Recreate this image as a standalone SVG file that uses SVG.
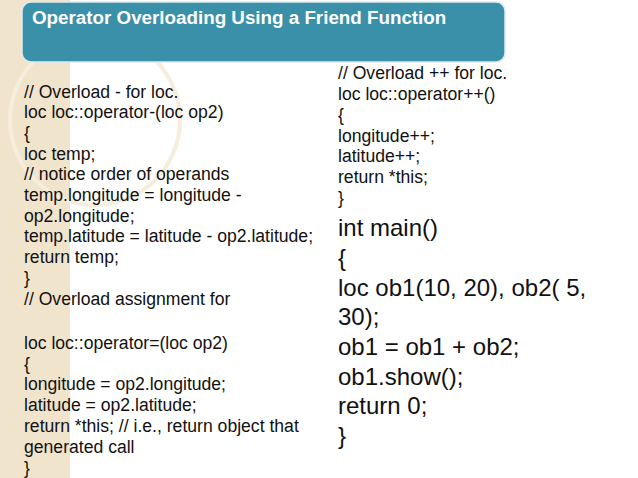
<svg xmlns="http://www.w3.org/2000/svg" width="638" height="478" viewBox="0 0 638 478">
<style>
text{font-family:"Liberation Sans",Arial,sans-serif;fill:#111}
.s{font-size:17.6px}
.b{font-size:24px}
</style>
<rect width="638" height="478" fill="#fff"/>
<rect width="70" height="478" fill="#f1e4cc"/>
<circle cx="95" cy="120" r="85" fill="none" stroke="#f6eddc" stroke-width="4"/>
<g id="header">
<rect x="22" y="2" width="483" height="60" rx="9" fill="#3a90a8" stroke="#dcebef" stroke-width="1.5"/>
<text x="32" y="24" style="font-size:18.8px;font-weight:bold;fill:#fff">Operator Overloading Using a Friend Function</text>
</g>
<g id="left">
<text class="s" x="24" y="98">// Overload - for loc.</text>
<text class="s" x="24" y="118">loc loc::operator-(loc op2)</text>
<text class="s" x="24" y="139">{</text>
<text class="s" x="24" y="160">loc temp;</text>
<text class="s" x="24" y="180">// notice order of operands</text>
<text class="s" x="24" y="201">temp.longitude = longitude -</text>
<text class="s" x="24" y="222">op2.longitude;</text>
<text class="s" x="24" y="242">temp.latitude = latitude - op2.latitude;</text>
<text class="s" x="24" y="263">return temp;</text>
<text class="s" x="24" y="284">}</text>
<text class="s" x="24" y="305">// Overload assignment for</text>
<text class="s" x="24" y="349">loc loc::operator=(loc op2)</text>
<text class="s" x="24" y="370">{</text>
<text class="s" x="24" y="390">longitude = op2.longitude;</text>
<text class="s" x="24" y="411">latitude = op2.latitude;</text>
<text class="s" x="24" y="432">return *this; // i.e., return object that</text>
<text class="s" x="24" y="453">generated call</text>
<text class="s" x="24" y="474">}</text>
</g>
<g id="right">
<text class="s" x="338" y="79">// Overload ++ for loc.</text>
<text class="s" x="338" y="100">loc loc::operator++()</text>
<text class="s" x="338" y="121">{</text>
<text class="s" x="338" y="142">longitude++;</text>
<text class="s" x="338" y="162">latitude++;</text>
<text class="s" x="338" y="183">return *this;</text>
<text class="s" x="338" y="204">}</text>
<text class="b" x="338" y="236">int main()</text>
<text class="b" x="338" y="266">{</text>
<text class="b" x="338" y="296">loc ob1(10, 20), ob2( 5,</text>
<text class="b" x="338" y="325">30);</text>
<text class="b" x="338" y="355">ob1 = ob1 + ob2;</text>
<text class="b" x="338" y="385">ob1.show();</text>
<text class="b" x="338" y="414">return 0;</text>
<text class="b" x="338" y="444">}</text>
</g>
</svg>
